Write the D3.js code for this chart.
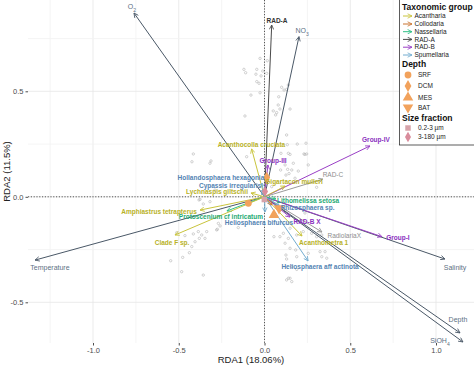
<!DOCTYPE html>
<html lang="en">
<head>
<meta charset="UTF-8" />
<title>RDA biplot</title>
<script src="https://d3js.org/d3.v7.min.js"></script>
<style>
  html, body { margin: 0; padding: 0; background: #fff; }
  svg { display: block; font-family: "Liberation Sans", Arial, sans-serif; }
</style>
</head>
<body>
<div id="chart"></div>
<script>
// environmental vectors
const envNames  = ["O2", "NO3", "Temperature", "Salinity", "Depth", "SiOH4"];
const envX      = [-0.761, 0.201, -1.338, 1.052, 1.140, 1.157];
const envY      = [0.871, 0.759, -0.300, -0.295, -0.645, -0.688];
const envLabelX = [-0.773, 0.219, -1.251, 1.111, 1.128, 1.023];
const envLabelY = [0.904, 0.786, -0.337, -0.333, -0.583, -0.679];

// taxon vectors
const taxonNames = ["RAD-A", "RAD-C", "RadiolariaX", "Group-IV", "Group-I", "Group-III", "RAD-B X",
  "Acanthocolla cruciata", "Gigartacon mulleri", "Hollandosphaera hexagonia", "Cypassis irregularis",
  "Lychnaspis giltschii", "Amphiastrus tetrapterus", "Protoscenium cf intricatum", "Clade F sp.",
  "Lithomelissa setosa", "Rhizosphaera sp.", "Heliosphaera bifurcus", "Acanthometra 1",
  "Heliosphaera aff actinota", ""];
const taxonGroup = ["RAD-A", "other", "other", "RAD-B", "RAD-B", "RAD-B", "RAD-B",
  "Acantharia", "Acantharia", "Spumellaria", "Spumellaria",
  "Acantharia", "Acantharia", "Nassellaria", "Acantharia",
  "Nassellaria", "Spumellaria", "Spumellaria", "Acantharia",
  "Spumellaria", "Collodaria"];
const taxonX = [0.042, 0.341, 0.335, 0.615, 0.685, 0.020, 0.149,
  -0.075, 0.120, -0.015, -0.015, -0.079, -0.376, -0.219, -0.522,
  0.067, 0.085, 0.003, 0.219, 0.254, 0.044];
const taxonY = [0.814, 0.084, -0.167, 0.241, -0.189, 0.151, -0.096,
  0.227, 0.051, 0.065, 0.032, 0.018, -0.063, -0.067, -0.181,
  -0.010, -0.039, -0.072, -0.186, -0.304, -0.039];
const taxonLabelX = [0.073, 0.399, 0.465, 0.650, 0.778, 0.050, 0.248,
  -0.076, 0.172, -0.254, -0.201, -0.277, -0.615, -0.254, -0.539,
  0.254, 0.251, -0.032, 0.345, 0.324, 0];
const taxonLabelY = [0.833, 0.103, -0.184, 0.269, -0.195, 0.172, -0.119,
  0.248, 0.070, 0.089, 0.051, 0.023, -0.072, -0.096, -0.219,
  -0.018, -0.050, -0.124, -0.218, -0.330, 0];

// legend groups
const groupNames  = ["Acantharia", "Collodaria", "Nassellaria", "RAD-A", "RAD-B", "Spumellaria"];
const groupColors = ["#c9c43c", "#c8732f", "#2fbf86", "#4a4a4a", "#9a3fc6", "#72acd0"];
const groupText   = ["#b8b126", "#b8651f", "#1faa74", "#333333", "#8a2fbe", "#5383b3"];

// sample points
const siteX = [-0.026, 0.016, -0.120, -0.110, -0.045, -0.010, -0.050, -0.020, 0.013, -0.045,
  -0.032, -0.079, -0.026, 0.100, 0.114, 0.129, 0.083, 0.139, 0.080, 0.090,
  0.051, 0.071, 0.149, -0.114, 0.129, 0.133, 0.191, 0.242, -0.415, -0.104,
  -0.312, -0.423, -0.318, 0.230, 0.139, 0.168, 0.135, 0.125, 0.178, 0.197,
  0.065, -0.289, -0.382, -0.318, 0.149, 0.096, 0.236, 0.120, 0.094, 0.159,
  0.143, 0.254, 0.042, 0.304, 0.149, 0.055, 0.090, 0.110, 0.139, 0.188,
  0.226, 0.275, 0.304, 0.334, 0.149, 0.182, 0.125, 0.129, 0.188, 0.255,
  0.324, 0.334, 0.363, 0.159, 0.188, 0.139, 0.159, -0.376, -0.357, -0.512,
  -0.464, -0.415, -0.386, -0.366, -0.337, -0.275, -0.259, -0.269, -0.380, -0.405,
  -0.424, -0.438, -0.477, -0.547, -0.483, -0.357, -0.153, 0.120, 0.246, 0.255,
  0.236, 0.353, -0.279, -0.347, 0.129, 0.149];
const siteY = [0.656, 0.645, 0.604, 0.588, 0.604, 0.596, 0.581, 0.573, 0.585, 0.546,
  0.538, 0.482, 0.493, 0.519, 0.506, 0.509, 0.474, 0.530, 0.435, 0.416,
  0.407, 0.399, 0.416, 0.383, 0.293, 0.247, 0.250, 0.254, 0.203, 0.190,
  0.170, 0.166, 0.159, 0.203, 0.206, 0.159, 0.130, 0.103, 0.088, 0.122,
  0.388, 0.032, -0.015, -0.023, 0.201, 0.206, 0.201, 0.151, 0.127, 0.127,
  0.110, 0.065, 0.048, 0.045, -0.149, -0.189, -0.189, -0.173, -0.197, -0.181,
  -0.165, -0.173, -0.189, -0.181, -0.244, -0.252, -0.276, -0.295, -0.284, -0.268,
  -0.260, -0.284, -0.291, -0.331, -0.344, -0.386, -0.402, -0.012, -0.034, -0.170,
  -0.184, -0.176, -0.165, -0.181, -0.165, -0.154, -0.138, -0.126, -0.197, -0.213,
  -0.236, -0.265, -0.287, -0.303, -0.355, -0.371, -0.146, -0.220, 0.203, 0.151,
  -0.077, -0.260, -0.157, -0.197, -0.394, -0.386];

// centroids
const depthNames = ["SRF", "DCM", "MES", "BAT"];
const depthX = [-0.094, 0.013, 0.055, 0.085];
const depthY = [-0.031, 0.091, -0.086, -0.055];
const sizeNames = ["0.2-3 µm", "3-180 µm"];
const sizeX = [-0.001, 0.003];
const sizeY = [-0.013, 0.025];

const W = 474, H = 365;
const panel = { left: 28, right: 474, top: 0, bottom: 343 };
const x = d3.scaleLinear().domain([-1, 1]).range([93, 436]);
const y = d3.scaleLinear().domain([-0.5, 0.5]).range([302.3, 91.3]);

const svg = d3.select("#chart").append("svg").attr("width", W).attr("height", H);
const defs = svg.append("defs");

function marker(color) {
  const id = "arr" + color.replace("#", "");
  if (defs.select("#" + id).empty()) {
    defs.append("marker").attr("id", id)
      .attr("viewBox", "0 0 10 10").attr("refX", 9).attr("refY", 5)
      .attr("markerWidth", 5.5).attr("markerHeight", 5.5)
      .attr("markerUnits", "userSpaceOnUse").attr("orient", "auto")
      .append("path").attr("d", "M1,1 L9,5 L1,9")
      .attr("fill", "none").attr("stroke", color).attr("stroke-width", 1.5);
  }
  return `url(#${id})`;
}

// grid
const g = svg.append("g");
const minorX = [-1.25, -0.75, -0.25, 0.25, 0.75], majorX = [-1, -0.5, 0, 0.5, 1];
const minorY = [-0.25, 0.25, 0.75], majorY = [-0.5, 0, 0.5];
g.selectAll(".gx").data(minorX.concat(majorX)).join("line")
  .attr("x1", d => x(d)).attr("x2", d => x(d)).attr("y1", panel.top).attr("y2", panel.bottom)
  .attr("stroke", (d, i) => i < minorX.length ? "#f1f1f1" : "#e6e6e6").attr("stroke-width", 0.8);
g.selectAll(".gy").data(minorY.concat(majorY)).join("line")
  .attr("y1", d => y(d)).attr("y2", d => y(d)).attr("x1", panel.left).attr("x2", panel.right)
  .attr("stroke", (d, i) => i < minorY.length ? "#f1f1f1" : "#e6e6e6").attr("stroke-width", 0.8);

// axes
const fmt = d => d3.format(".1f")(d).replace("−", "-");
const xAxis = svg.append("g").attr("transform", `translate(0,${panel.bottom})`)
  .call(d3.axisBottom(x).tickValues(majorX).tickFormat(fmt).tickSize(2.5).tickPadding(2));
const yAxis = svg.append("g").attr("transform", `translate(${panel.left},0)`)
  .call(d3.axisLeft(y).tickValues(majorY).tickFormat(fmt).tickSize(2.5).tickPadding(2));
[xAxis, yAxis].forEach(a => {
  a.select(".domain").remove();
  a.selectAll("line").attr("stroke", "#4d4d4d");
  a.selectAll("text").attr("fill", "#4d4d4d").style("font-size", "7.5px")
    .style("font-family", "'Liberation Sans', Arial, sans-serif");
});
svg.append("text").attr("x", 251).attr("y", 363).attr("text-anchor", "middle")
  .style("font-size", "9.5px").attr("fill", "#222").text("RDA1 (18.06%)");
svg.append("text").attr("transform", `translate(10,${(panel.top + panel.bottom) / 2}) rotate(-90)`)
  .attr("text-anchor", "middle").style("font-size", "9.5px").attr("fill", "#222").text("RDA2 (11.5%)");

// zero lines
svg.append("line").attr("x1", x(0)).attr("x2", x(0)).attr("y1", panel.top).attr("y2", panel.bottom)
  .attr("stroke", "#555").attr("stroke-width", 1).attr("stroke-dasharray", "1.2,1.6");
svg.append("line").attr("x1", panel.left).attr("x2", panel.right).attr("y1", y(0)).attr("y2", y(0))
  .attr("stroke", "#555").attr("stroke-width", 1).attr("stroke-dasharray", "1.2,1.6");

// sample points
svg.append("g").selectAll("circle").data(d3.range(siteX.length)).join("circle")
  .attr("cx", i => x(siteX[i])).attr("cy", i => y(siteY[i])).attr("r", 1.2)
  .attr("fill", "none").attr("stroke", "#b4b4b4").attr("stroke-width", 0.6);

// environmental arrows
const envCol = "#4a5867";
svg.append("g").selectAll("line").data(d3.range(envNames.length)).join("line")
  .attr("x1", x(0)).attr("y1", y(0))
  .attr("x2", i => x(envX[i])).attr("y2", i => y(envY[i]))
  .attr("stroke", envCol).attr("stroke-width", 1)
  .attr("marker-end", marker(envCol));

// taxon arrows
const colorOf = grp => grp === "other" ? "#9a9a9a" : groupColors[groupNames.indexOf(grp)];
const textOf = grp => grp === "other" ? "#8e8e8e" : groupText[groupNames.indexOf(grp)];
svg.append("g").selectAll("line").data(d3.range(taxonNames.length)).join("line")
  .attr("x1", x(0)).attr("y1", y(0))
  .attr("x2", i => x(taxonX[i])).attr("y2", i => y(taxonY[i]))
  .attr("stroke", i => colorOf(taxonGroup[i])).attr("stroke-width", 1)
  .attr("marker-end", i => marker(colorOf(taxonGroup[i])));

// centroids
const depthCol = "#f2a25c", sizeCol = ["#d7a3aa", "#d98c9c"];
const depthShape = [
  d3.symbol().type(d3.symbolCircle).size(36),
  d3.symbol().type(d3.symbolDiamond).size(40),
  d3.symbol().type(d3.symbolTriangle).size(48),
  d3.symbol().type(d3.symbolTriangle).size(48)
];
const cg = svg.append("g");
depthNames.forEach((n, i) => {
  cg.append("path").attr("d", depthShape[i]())
    .attr("transform", `translate(${x(depthX[i])},${y(depthY[i])})${i === 3 ? " rotate(180)" : ""}`)
    .attr("fill", depthCol);
});
const sizeShape = [d3.symbol().type(d3.symbolSquare).size(30), d3.symbol().type(d3.symbolDiamond).size(32)];
sizeNames.forEach((n, i) => {
  cg.append("path").attr("d", sizeShape[i]())
    .attr("transform", `translate(${x(sizeX[i])},${y(sizeY[i])})`)
    .attr("fill", sizeCol[i]);
});

// labels with subscripts
function subText(sel, name) {
  const m = name.match(/^([A-Za-z]+?)(\d)$/);
  if (m && name !== "Temperature") {
    sel.append("tspan").text(m[1]);
    sel.append("tspan").attr("baseline-shift", "sub").style("font-size", "5px").text(m[2]);
  } else sel.text(name);
}
envNames.forEach((n, i) => {
  const t = svg.append("text").attr("x", x(envLabelX[i])).attr("y", y(envLabelY[i]))
    .attr("dy", "0.35em").attr("text-anchor", "middle")
    .style("font-size", "7px").attr("fill", "#5d7084");
  subText(t, n);
});
taxonNames.forEach((n, i) => {
  if (!n) return;
  const grp = taxonGroup[i];
  svg.append("text").attr("x", x(taxonLabelX[i])).attr("y", y(taxonLabelY[i]))
    .attr("dy", "0.35em").attr("text-anchor", "middle")
    .style("font-size", "6.5px").style("font-weight", grp === "other" ? "normal" : "bold")
    .attr("fill", textOf(grp)).text(n);
});

// legend
const lg = svg.append("g");
lg.append("rect").attr("x", 399.5).attr("y", -1).attr("width", 80).attr("height", 146)
  .attr("fill", "#fff").attr("stroke", "#333").attr("stroke-width", 0.8);
const title = (t, yy) => lg.append("text").attr("x", 402).attr("y", yy).attr("dy", "0.35em")
  .style("font-size", "8.5px").style("font-weight", "bold").attr("fill", "#111").text(t);
const item = (t, xx, yy) => lg.append("text").attr("x", xx).attr("y", yy).attr("dy", "0.35em")
  .style("font-size", "6.5px").attr("fill", "#222").text(t);
title("Taxonomic group", 7);
const groupY = [16, 24, 31.7, 39.4, 47.2, 55];
groupNames.forEach((n, i) => {
  lg.append("line").attr("x1", 403).attr("x2", 412).attr("y1", groupY[i]).attr("y2", groupY[i])
    .attr("stroke", groupColors[i]).attr("stroke-width", 1).attr("marker-end", marker(groupColors[i]));
  item(n, 414.5, groupY[i]);
});
title("Depth", 64.5);
const depthLegY = [75, 86, 97.5, 107.5];
depthNames.forEach((n, i) => {
  lg.append("path").attr("d", depthShape[i]())
    .attr("transform", `translate(408,${depthLegY[i]})${i === 3 ? " rotate(180)" : ""}`)
    .attr("fill", depthCol);
  item(n, 418, depthLegY[i]);
});
title("Size fraction", 118.5);
const sizeLegY = [128, 137];
sizeNames.forEach((n, i) => {
  lg.append("path").attr("d", sizeShape[i]()).attr("transform", `translate(408,${sizeLegY[i]})`)
    .attr("fill", sizeCol[i]);
  item(n, 418, sizeLegY[i]);
});
</script>
</body>
</html>
